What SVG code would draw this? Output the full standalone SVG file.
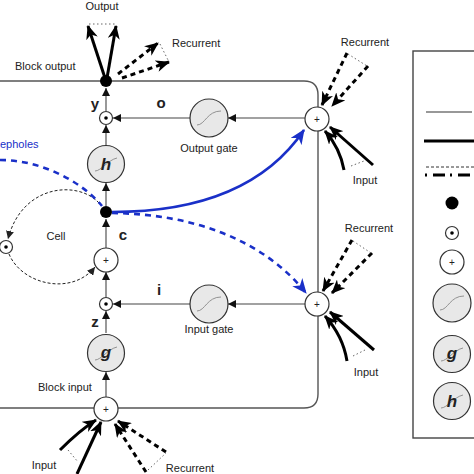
<svg xmlns="http://www.w3.org/2000/svg" width="474" height="474" viewBox="0 0 474 474">
<style>
text{font-family:"Liberation Sans",Arial,sans-serif;fill:#222}
.lbl{font-size:11px}
.mid{text-anchor:middle}
.bv{font-size:15px;font-weight:bold;text-anchor:middle}
.let{font-size:17px;font-weight:bold;font-style:italic;text-anchor:middle}
.flow{stroke:#444;stroke-width:1.1;fill:none;marker-end:url(#sa)}
.thick{stroke:#000;stroke-width:3;fill:none;marker-end:url(#ba)}
.dsh{stroke:#000;stroke-width:3;fill:none;stroke-dasharray:5,4;marker-end:url(#ba)}
.dot{stroke:#666;stroke-width:1;fill:none;stroke-dasharray:1.5,2.5}
.jn{fill:#fff;stroke:#333;stroke-width:1.2}
.gate{fill:#e8e8e8;stroke:#333;stroke-width:1.2}
.sig{fill:none;stroke:#888;stroke-width:0.9}
.box{fill:none;stroke:#555;stroke-width:1.4}
.blue{stroke:#1a30c8;stroke-width:2.6;fill:none}
</style>
<defs>
<marker id="sa" viewBox="0 0 8 8" refX="8" refY="4" markerWidth="8" markerHeight="8" markerUnits="userSpaceOnUse" orient="auto"><path d="M0,0 L8,4 L0,8 z" fill="#111"/></marker>
<marker id="ba" viewBox="0 0 14 12" refX="13" refY="6" markerWidth="14" markerHeight="12" markerUnits="userSpaceOnUse" orient="auto"><path d="M0,0 L14,6 L0,12 L4,6 z" fill="#000"/></marker>
<marker id="bb" viewBox="0 0 14 12" refX="13" refY="6" markerWidth="15" markerHeight="13" markerUnits="userSpaceOnUse" orient="auto"><path d="M0,0 L14,6 L0,12 L4,6 z" fill="#1a30c8"/></marker>
<marker id="sd" viewBox="0 0 8 8" refX="8" refY="4" markerWidth="8" markerHeight="8" markerUnits="userSpaceOnUse" orient="auto"><path d="M0,0 L8,4 L0,8 z" fill="#222"/></marker>
<g id="gateShape"><circle r="19" class="gate"/><path class="sig" d="M-12,7 C-4,7 -2,-7 12,-7"/></g>
<g id="plus"><circle r="12" class="jn"/><text class="mid" y="3.5" style="font-size:10px">+</text></g>
<g id="prod"><circle r="6.5" class="jn"/><circle r="1.8" fill="#000"/></g>
</defs>

<!-- block box -->
<path class="box" d="M-10,81 H304 Q318,81 318,95 V394 Q318,408 304,408 H-10"/>

<g id="connectors">
<!-- main vertical flow -->
<line class="flow" x1="106" y1="397" x2="106" y2="372"/>
<line class="flow" x1="106" y1="333" x2="106" y2="311"/>
<line class="flow" x1="106" y1="297" x2="106" y2="272"/>
<line class="flow" x1="106" y1="248" x2="106" y2="219"/>
<line class="flow" x1="106" y1="206" x2="106" y2="183"/>
<line class="flow" x1="106" y1="145" x2="106" y2="125"/>
<line class="flow" x1="106" y1="111" x2="106" y2="88"/>
<!-- gates to products -->
<line class="flow" x1="190" y1="118" x2="113" y2="118"/>
<line class="flow" x1="305" y1="118" x2="228" y2="118"/>
<line class="flow" x1="190" y1="304" x2="113" y2="304"/>
<line class="flow" x1="305" y1="304" x2="228" y2="304"/>
<!-- cell loop -->
<path d="M99,203 C78,180 22,184 8,239" fill="none" stroke="#222" stroke-width="1" stroke-dasharray="3,2" marker-end="url(#sd)"/>
<path d="M9,254 C22,285 72,296 95,267" fill="none" stroke="#222" stroke-width="1" stroke-dasharray="3,2" marker-end="url(#sd)"/>
<!-- peepholes -->
<path class="blue" d="M0,160 C40,160 80,180 102,206" stroke-dasharray="6,5"/>
<path class="blue" d="M112,213 C190,214 262,238 306,293" stroke-dasharray="6,5" marker-end="url(#bb)"/>
<path class="blue" d="M112,212 C190,212 262,192 304,130" marker-end="url(#bb)"/>
<!-- block output -->
<line class="thick" x1="105" y1="78" x2="88" y2="26"/>
<line class="thick" x1="107" y1="78" x2="116" y2="26"/>
<line class="dot" x1="89" y1="24" x2="116" y2="24"/>
<line class="dsh" x1="118" y1="74" x2="158" y2="43"/>
<line class="dsh" x1="122" y1="78" x2="169" y2="62"/>
<line class="dot" x1="160" y1="44" x2="168" y2="60"/>
<!-- top junction -->
<line class="dsh" x1="347" y1="53" x2="322" y2="105"/>
<line class="dsh" x1="368" y1="66" x2="332" y2="106"/>
<line class="dot" x1="348" y1="54" x2="367" y2="66"/>
<path class="thick" d="M344,170 Q340,148 325,131"/>
<line class="thick" x1="373" y1="165" x2="330" y2="127"/>
<line class="dot" x1="351" y1="166" x2="364" y2="161"/>
<!-- bottom junction -->
<line class="dsh" x1="352" y1="240" x2="323" y2="291"/>
<line class="dsh" x1="372" y1="253" x2="332" y2="293"/>
<line class="dot" x1="353" y1="241" x2="371" y2="253"/>
<path class="thick" d="M347,361 Q343,336 325,316"/>
<line class="thick" x1="374" y1="350" x2="330" y2="312"/>
<line class="dot" x1="353" y1="356" x2="365" y2="350"/>
<!-- block input -->
<path class="thick" d="M60,450 Q80,430 96,420"/>
<line class="thick" x1="77" y1="474" x2="101" y2="422"/>
<line class="dot" x1="68" y1="450" x2="78" y2="462"/>
<line class="dsh" x1="166" y1="452" x2="118" y2="421"/>
<line class="dsh" x1="146" y1="472" x2="115" y2="424"/>
<line class="dot" x1="148" y1="470" x2="166" y2="453"/>
</g>

<g id="output-dot"><circle cx="106" cy="81" r="6" fill="#000"/></g>
<g id="output-prod"><use href="#prod" x="106" y="118"/></g>
<g id="output-gate"><use href="#gateShape" x="209" y="118"/><text class="lbl mid" x="209" y="152">Output gate</text></g>
<g id="h-node"><circle cx="106" cy="164" r="18.5" class="gate"/><path class="sig" d="M95,171 C101,171 108,160 117,158"/><text class="let" x="106" y="170">h</text></g>
<g id="cell-dot"><circle cx="106" cy="212" r="6" fill="#000"/></g>
<g id="cell-sum"><use href="#plus" x="106" y="260"/></g>
<g id="forget-prod"><use href="#prod" x="6" y="247"/></g>
<g id="input-prod"><use href="#prod" x="106" y="304"/></g>
<g id="input-gate"><use href="#gateShape" x="209" y="304"/><text class="lbl mid" x="209" y="333">Input gate</text></g>
<g id="g-node"><circle cx="106" cy="353" r="18.5" class="gate"/><path class="sig" d="M95,360 C101,360 108,349 117,347"/><text class="let" x="106" y="358">g</text></g>
<g id="block-input-sum"><use href="#plus" x="106" y="409"/></g>
<g id="output-gate-sum"><use href="#plus" x="317" y="119"/></g>
<g id="input-gate-sum"><use href="#plus" x="317" y="304"/></g>

<!-- labels -->
<text class="lbl mid" x="102" y="10">Output</text>
<text class="lbl" x="172" y="47">Recurrent</text>
<text class="lbl" x="15" y="70">Block output</text>
<text class="bv" x="95" y="109">y</text>
<text class="bv" x="161" y="108">o</text>
<text class="lbl" x="0" y="148" style="fill:#1a30c8">epholes</text>
<text class="lbl mid" x="56" y="240">Cell</text>
<text class="bv" x="123" y="240">c</text>
<text class="bv" x="159" y="295">i</text>
<text class="bv" x="95" y="327">z</text>
<text class="lbl" x="38" y="391">Block input</text>
<text class="lbl mid" x="44" y="469">Input</text>
<text class="lbl mid" x="190" y="472">Recurrent</text>
<text class="lbl mid" x="365" y="46">Recurrent</text>
<text class="lbl mid" x="365" y="184">Input</text>
<text class="lbl mid" x="369" y="232">Recurrent</text>
<text class="lbl mid" x="366" y="376">Input</text>

<!-- legend -->
<g id="legend">
<rect x="413" y="51" width="80" height="387" fill="none" stroke="#444" stroke-width="1.4"/>
<line x1="426" y1="112" x2="472" y2="112" stroke="#333" stroke-width="1.2"/>
<line x1="424" y1="141" x2="474" y2="141" stroke="#000" stroke-width="3"/>
<line x1="426" y1="167" x2="474" y2="167" stroke="#333" stroke-width="1" stroke-dasharray="3,2"/>
<line x1="425" y1="175" x2="474" y2="175" stroke="#000" stroke-width="3" stroke-dasharray="2,6,12,5"/>
<circle cx="452" cy="203" r="6.5" fill="#000"/>
<use href="#prod" x="452" y="233"/>
<use href="#plus" x="452" y="262"/>
<use href="#gateShape" x="452" y="303"/>
<circle cx="452" cy="354" r="18.5" class="gate"/><path class="sig" d="M441,361 C447,361 454,350 463,348"/><text class="let" x="452" y="359">g</text>
<circle cx="452" cy="401" r="18.5" class="gate"/><path class="sig" d="M441,408 C447,408 454,397 463,395"/><text class="let" x="452" y="407">h</text>
</g>
</svg>
